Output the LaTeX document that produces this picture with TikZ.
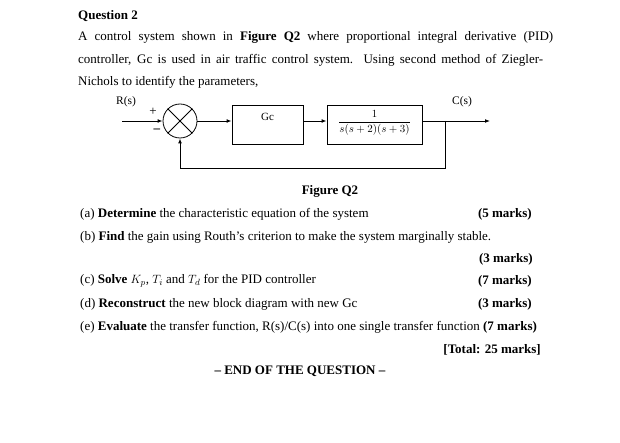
\documentclass[tikz,border=0pt]{standalone}
\usepackage{fontspec}
\setmainfont{Liberation Serif}
\usepackage{amsmath}
\usetikzlibrary{arrows.meta}
\begin{document}
\begin{tikzpicture}[x=1pt,y=-1pt,
  txt/.style={anchor=west,inner sep=0pt,font=\fontsize{13}{15}\selectfont},
  rtxt/.style={anchor=east,inner sep=0pt,font=\fontsize{13}{15}\selectfont},
  blk/.style={draw,thick,minimum width=71pt,minimum height=39pt,inner sep=0pt},
  sig/.style={thick,-{Latex[length=5pt]}},
  ln/.style={thick}]
\useasboundingbox (0,0) rectangle (620,443);
\node[txt] (q) at (78,16) {\textbf{Question 2}};
\node[txt] (l1) at (78,37) {\makebox[475pt][s]{A control system shown in \textbf{Figure Q2} where proportional integral derivative (PID)}};
\node[txt] (l2) at (78,60) {\makebox[465pt][s]{controller, Gc is used in air traffic control system. Using second method of Ziegler-}};
\node[txt] (l3) at (78,82) {Nichols to identify the parameters,};
% diagram
\node[draw,thick,circle,minimum size=34pt,inner sep=0pt] (sum) at (180,121) {};
\draw[thick] (sum.north west) -- (sum.south east) (sum.north east) -- (sum.south west);
\node[blk] (gc) at (267.5,124.5) {};
\node[anchor=north,inner sep=0pt,font=\fontsize{11}{13}\selectfont] (gct) at (267.5,113) {G\textsc{c}};
\node[blk,minimum width=95pt] (gp) at (374.5,124.5) {};
\node[inner sep=0pt,font=\fontsize{10.5}{12}\selectfont] (gpt) at (374.5,123) {$\dfrac{1}{s(s+2)(s+3)}$};
\coordinate (in) at (122,121);
\coordinate (br) at (445,121);
\coordinate (out) at (490,121);
\coordinate (fb1) at (445,168);
\coordinate (fb2) at (180,168);
\draw[sig] (in) -- (sum.west);
\draw[sig] (sum.east) -- (gc.west |- sum.east);
\draw[sig] (gc.east |- sum.east) -- (gp.west |- sum.east);
\draw[sig] (gp.east |- sum.east) -- (out);
\draw[ln] (br) -- (fb1) -- (fb2);
\draw[sig] (fb2) -- (sum.south);
\node[txt,font=\fontsize{11.5}{13}\selectfont] (rs) at (116,102) {R(s)};
\node[txt,font=\fontsize{11.5}{13}\selectfont] (cs) at (452,102) {C(s)};
\node[inner sep=0pt,font=\fontsize{13}{13}\selectfont] (plus) at (153,112) {+};
\node[inner sep=0pt,font=\fontsize{13}{13}\selectfont] (minus) at (157,131) {\textbf{--}};
\node[inner sep=0pt,font=\fontsize{13}{15}\selectfont] (fig) at (330,191) {\textbf{Figure Q2}};
% questions
\node[txt] (a) at (80,214) {(a) \textbf{Determine} the characteristic equation of the system};
\node[rtxt] (am) at (532,214) {\textbf{(5 marks)}};
\node[txt] (b) at (80,237) {(b) \textbf{Find} the gain using Routh's criterion to make the system marginally stable.};
\node[rtxt] (bm) at (533,259) {\textbf{(3 marks)}};
\node[txt] (c) at (80,281) {(c) \textbf{Solve} $K_p$, $T_i$ and $T_d$ for the PID controller};
\node[rtxt] (cm) at (532,281) {\textbf{(7 marks)}};
\node[txt] (d) at (80,304) {(d) \textbf{Reconstruct} the new block diagram with new Gc};
\node[rtxt] (dm) at (532,304) {\textbf{(3 marks)}};
\node[txt] (e) at (80,327) {(e) \textbf{Evaluate} the transfer function, R(s)/C(s) into one single transfer function \textbf{(7 marks)}};
\node[rtxt] (tot) at (541,350) {\textbf{[Total: 25 marks]}};
\node[inner sep=0pt,font=\fontsize{13}{15}\selectfont] (end) at (300,371) {\textbf{-- END OF THE QUESTION --}};
\end{tikzpicture}
\end{document}
